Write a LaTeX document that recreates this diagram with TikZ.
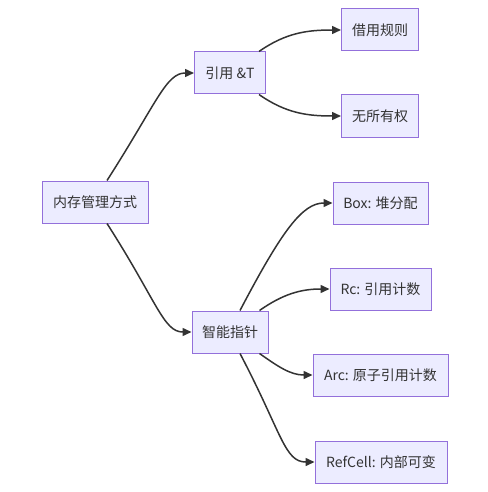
\documentclass[tikz,border=0pt]{standalone}
\usepackage{fontspec}
\setmainfont{Noto Sans CJK SC}
\usetikzlibrary{arrows.meta}
\definecolor{boxfill}{HTML}{ECECFF}
\definecolor{boxline}{HTML}{9370DB}
\definecolor{ink}{HTML}{333333}
\begin{document}
\begin{tikzpicture}[x=1pt, y=-1pt,
    item/.style={draw=boxline, fill=boxfill, line width=1pt, text=ink, font=\fontsize{14pt}{16pt}\selectfont, minimum height=42pt, inner sep=0pt},
    link/.style={draw=ink, line width=1.5pt, -{Triangle[length=9pt, width=8pt]}}]
    \useasboundingbox (0, 0) rectangle (487, 492);
    \node[item, minimum width=106pt] (memory) at (95, 202) {内存管理方式};
    \node[item, minimum width=71pt] (borrow) at (230, 73) {引用 \&T};
    \node[item, minimum width=77pt] (rules) at (380, 30) {借用规则};
    \node[item, minimum width=77pt] (noown) at (380, 116) {无所有权};
    \node[item, minimum width=76pt] (smart) at (230, 332) {智能指针};
    \node[item, minimum width=95pt] (box) at (380.5, 203) {Box: 堆分配};
    \node[item, minimum width=101pt] (rc) at (380.5, 289) {Rc: 引用计数};
    \node[item, minimum width=135pt] (arc) at (380.5, 375) {Arc: 原子引用计数};
    \node[item, minimum width=132pt] (refcell) at (381, 462) {RefCell: 内部可变};
    % edges
    \draw[link] ([xshift=12pt]memory.north) .. controls +(50, -78) and +(-28, 0) .. (borrow.west);
    \draw[link] ([xshift=12pt]memory.south) .. controls +(50, 78) and +(-28, 0) .. (smart.west);
    \draw[link] ([xshift=-7pt]borrow.north east) to[out=35, in=180] (rules.west);
    \draw[link] ([xshift=-7pt]borrow.south east) to[out=-35, in=180] (noown.west);
    \draw[link] ([xshift=10pt]smart.north) .. controls +(42, -80) and +(-30, 0) .. (box.west);
    \draw[link] ([xshift=-9pt]smart.north east) to[out=35, in=180] (rc.west);
    \draw[link] ([xshift=-9pt]smart.south east) to[out=-35, in=180] (arc.west);
    \draw[link] ([xshift=10pt]smart.south) .. controls +(42, 80) and +(-30, 0) .. (refcell.west);
\end{tikzpicture}
\end{document}
